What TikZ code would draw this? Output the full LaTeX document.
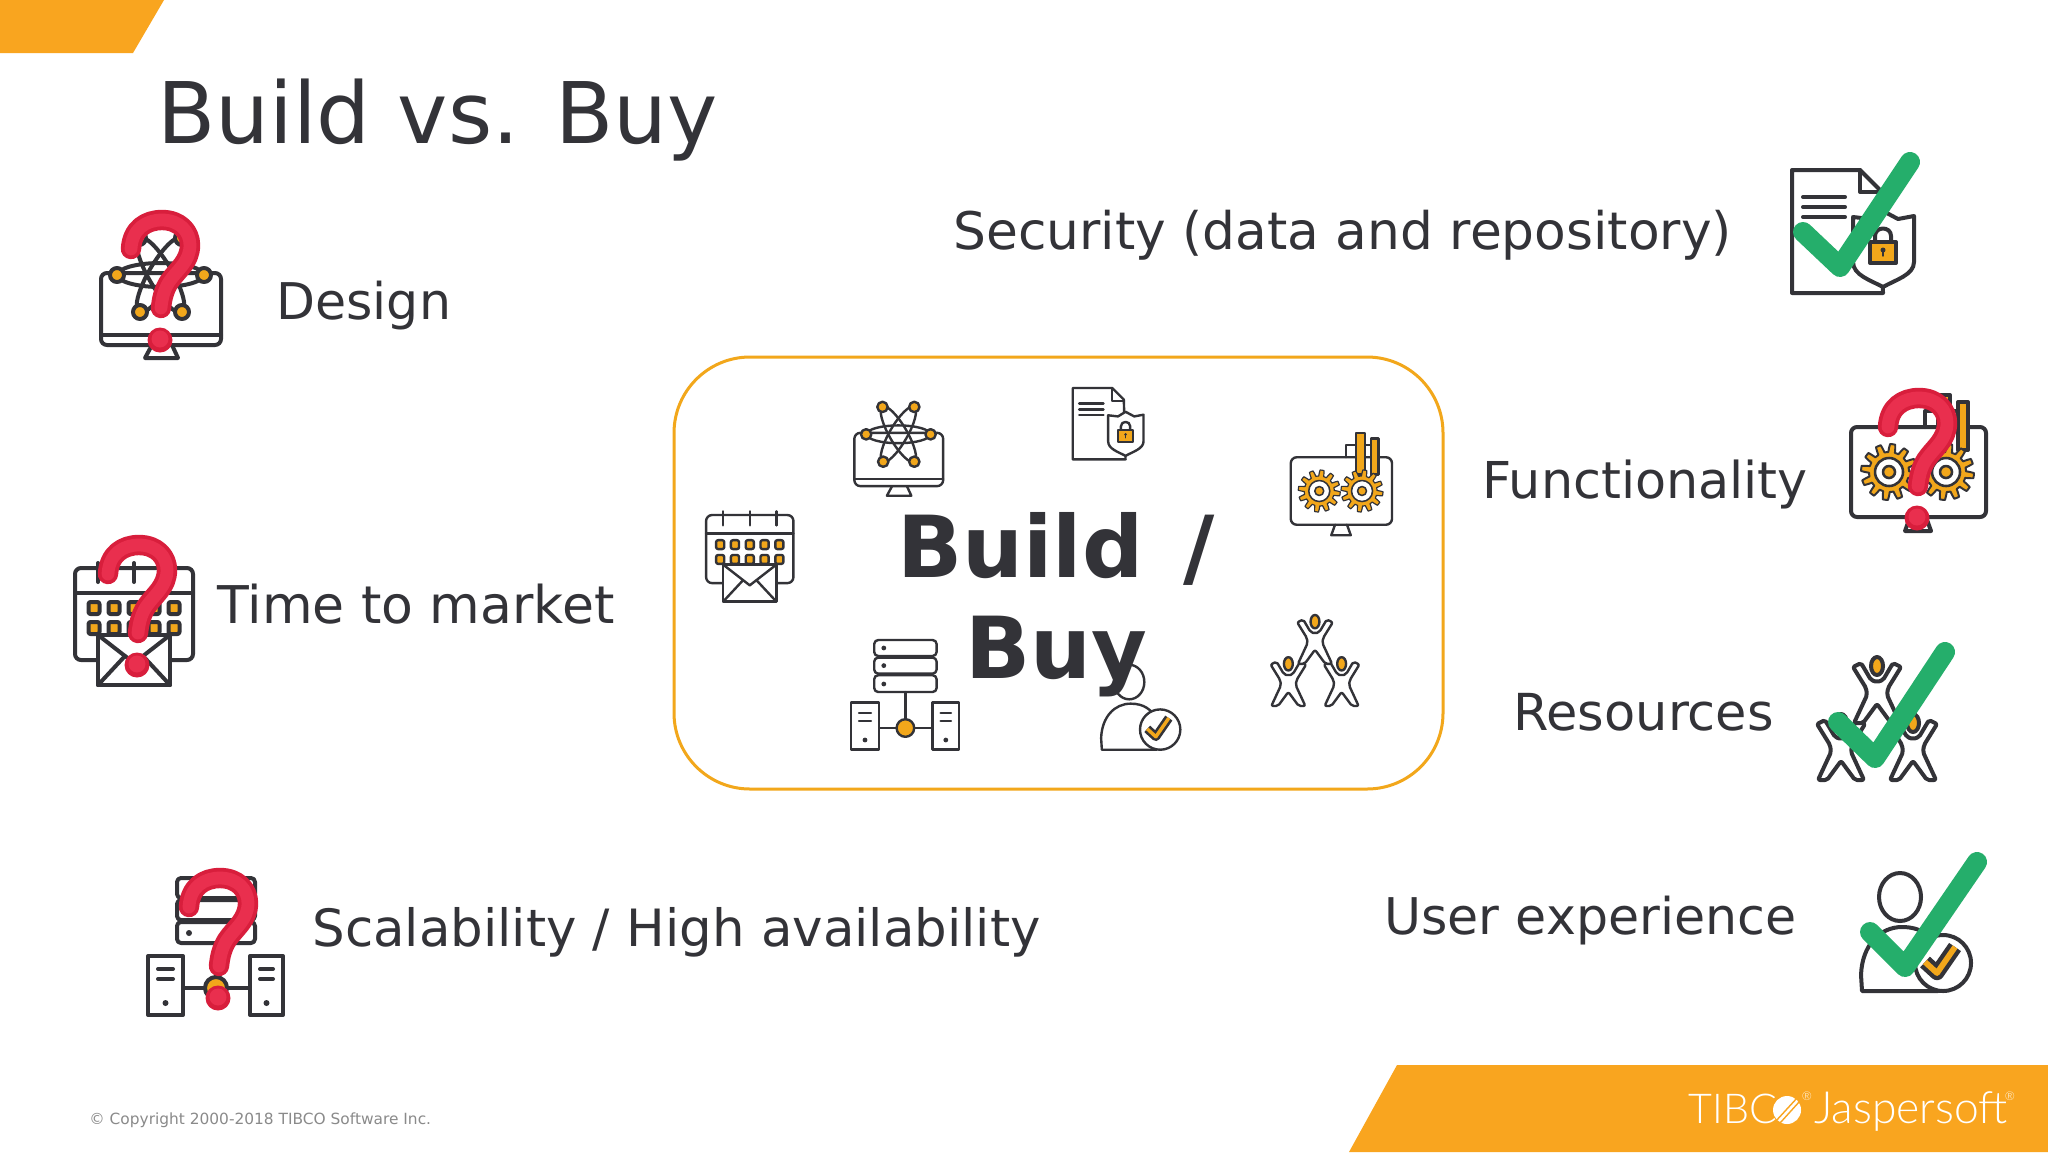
\documentclass[tikz,border=0pt]{standalone}
\usepackage{fontspec}
\setmainfont{DejaVu Sans}
\newfontfamily\logofont{Lato Light}
\definecolor{ink}{HTML}{333338}
\definecolor{ora}{HTML}{F9A51F}
\definecolor{icono}{HTML}{F2A71B}
\definecolor{qdark}{HTML}{D81E3C}
\definecolor{qlite}{HTML}{E92F4E}
\definecolor{okgreen}{HTML}{25AE6B}
\definecolor{greytxt}{HTML}{8A8A8A}
\tikzset{
  lbl/.style={anchor=base west,inner sep=0pt,text=ink,font=\fontsize{25.6}{32}\selectfont},
  ln/.style={draw=ink,line join=round,line cap=round},
  bigicon/.style={line width=2pt},
  smallicon/.style={line width=1.2pt,scale=#1},
  orafill/.style={ln,fill=icono},
  whitefill/.style={ln,fill=white},
  logotxt/.style={anchor=base west,inner sep=0pt,text=white,font=\logofont\fontsize{20.6}{24}\selectfont},
  logoreg/.style={inner sep=0pt,text=white,font=\logofont\fontsize{6}{7}\selectfont},
}
\newcommand{\qmarkat}[2]{%
  \begin{scope}[shift={(#1,#2)},line cap=round,line join=round]
    \foreach \c/\w in {qdark/10.2pt,qlite/6.4pt}{
      \draw[\c,line width=\w] (71,69) .. controls (72,49) and (86,40) .. (102,40)
        .. controls (120,40) and (130,52) .. (130,65)
        .. controls (130,82) and (117,90) .. (109,102)
        .. controls (104,110) and (102,118) .. (101,128);
    }
    \fill[qdark] (100,160) circle (12.5);
    \fill[qlite] (100,159) circle (8.5);
  \end{scope}}
\newcommand{\gcheck}[6]{%
  \draw[okgreen,line width=10pt,line cap=round,line join=round] (#1,#2) -- (#3,#4) -- (#5,#6);}
\newcommand{\iconatom}{%
  \draw[whitefill,rounded corners=3] (41,93) rectangle (161,165);
  \draw[ln] (41,155) -- (161,155);
  \draw[ln] (92,165) -- (85,178) -- (118,178) -- (112,165);
  \foreach \a in {0,60,-60}{
    \draw[ln,rotate around={\a:(100.5,95)}] (100.5,95) ellipse (43 and 12);
  }
  \foreach \p/\q in {79/58,122/58,57/95,144/95,80/132,122/132}{
    \draw[orafill] (\p,\q) circle (7);
  }}
\newcommand{\iconcal}{%
  \draw[whitefill,rounded corners=3] (15,48) rectangle (133,140);
  \draw[ln] (15,73) -- (133,73);
  \foreach \p in {38,74,110}{\draw[ln] (\p,43) -- (\p,62);}
  \foreach \p in {34,54,74,94,114}{
    \draw[orafill,rounded corners=1] (\p-5.5,82) rectangle (\p+5.5,94);
    \draw[orafill,rounded corners=1] (\p-5.5,102) rectangle (\p+5.5,114);
  }
  \draw[whitefill] (38,115) rectangle (110,165);
  \draw[ln] (38,115) -- (74,143) -- (110,115);
  \draw[ln] (38,165) -- (65,136);
  \draw[ln] (110,165) -- (83,136);}
\newcommand{\iconserver}{%
  \foreach \t/\b/\d in {28/48/38,50/70/60,72/93/83}{
    \draw[whitefill,rounded corners=2] (47,\t) rectangle (125,\b);
    \fill[ink] (59,\d) circle (3);
  }
  \draw[ln] (86,93) -- (86,126);
  \draw[ln] (53,138) -- (120,138);
  \foreach \l/\r in {18/53,120/153}{
    \draw[whitefill] (\l,106) rectangle (\r,165);
    \draw[ln] (\l+10,119) -- (\r-10,119);
    \draw[ln] (\l+10,129) -- (\r-10,129);
    \fill[ink] ({(\l+\r)/2},153) circle (3);
  }
  \draw[orafill] (86,138) circle (11);}
\newcommand{\icondoc}{%
  \draw[whitefill] (22,30) -- (90,30) -- (110,50) -- (113,153) -- (22,153) -- cycle;
  \draw[ln] (90,30) -- (90,52) -- (110,52);
  \foreach \q in {57,67,77}{\draw[ln] (33,\q) -- (75,\q);}
  \draw[whitefill] (83,77) -- (100,79) -- (113,71) -- (128,79) -- (144,76) -- (144,122)
    .. controls (144,135) and (125,140) .. (113,147)
    .. controls (100,140) and (83,135) .. (83,122) -- cycle;
  \draw[ln] (105,102) -- (105,96) .. controls (105,86) and (121,86) .. (121,96) -- (121,102);
  \draw[orafill] (100,102) rectangle (126,123);
  \fill[ink] (113,110) circle (2.5);
  \draw[ln,line width=.6\pgflinewidth] (113,110) -- (113,116);}
\newcommand{\geartooth}[2]{%
  \draw[orafill,line width=.7\pgflinewidth] plot[domain=0:360,samples=169,variable=\t]
    ({#1+(24+4*min(1,max(-1,4*sin(12*\t))))*cos(\t)},{#2+(24+4*min(1,max(-1,4*sin(12*\t))))*sin(\t)}) -- cycle;
  \draw[whitefill,line width=.8\pgflinewidth] (#1,#2) circle (14);
  \draw[orafill,line width=.8\pgflinewidth] (#1,#2) circle (6);}
\newcommand{\icongear}{%
  \draw[whitefill,rounded corners=3] (21,47) rectangle (156,137);
  \draw[ln] (80,137) -- (75,151) -- (101,151) -- (96,137);
  \draw[ln] (95,47) -- (95,31) -- (128,31);
  \draw[orafill] (108,15) rectangle (120,70);
  \draw[orafill] (128,22) rectangle (138,70);
  \geartooth{59}{92}
  \geartooth{116}{92}}
\newcommand{\personat}[2]{%
  \begin{scope}[shift={(#1,#2)}]
    \draw[whitefill,rounded corners=1] (-24,4) -- (-16,0) -- (-6,17) -- (0,19) -- (6,17) -- (16,0) -- (24,4)
      -- (11,25) -- (10,32) -- (23,60) -- (14,60) -- (0,41) -- (-14,60) -- (-23,60) -- (-10,32) -- (-11,25) -- cycle;
    \draw[orafill] (0,3) ellipse (6 and 9);
  \end{scope}}
\newcommand{\iconpeople}{%
  \personat{41}{90}
  \personat{113}{90}
  \personat{77}{33}}
\newcommand{\iconuser}{%
  \draw[ln] (60,57) ellipse (21 and 24);
  \draw[whitefill] (22,151) -- (21,135) .. controls (22,105) and (40,87) .. (62,87)
     .. controls (80,87) and (92,95) .. (98,110) -- (98,151) -- cycle;
  \draw[whitefill] (103,123) circle (28);
  \draw[ln,line width=1.9\pgflinewidth,line cap=butt] (85,122) -- (97,133) -- (115,107);
  \draw[icono,line width=1.2\pgflinewidth,line cap=butt,line join=round] (85,122) -- (97,133) -- (115,107);}
\begin{document}
\begin{tikzpicture}[x=0.5pt,y=-0.5pt]
\useasboundingbox (0,0) rectangle (2048,1152);
\fill[white] (0,0) rectangle (2048,1152);
% banners
\fill[ora] (0,0) -- (164,0) -- (133,53) -- (0,53) -- cycle;
\fill[ora] (1397,1065) -- (2048,1065) -- (2048,1152) -- (1349,1152) -- cycle;
% title
\node[anchor=base west,inner sep=0pt,text=ink,font=\fontsize{42.5}{50}\selectfont] (title) at (157,143) {Build vs. Buy};
% centre box
\draw[icono,line width=1.5pt,rounded corners=38pt] (674,357) rectangle (1443,789);
\begin{scope}[shift={(824,364)},smallicon=.74]\iconatom\end{scope}
\begin{scope}[shift={(1060,370.6)},smallicon=.58]\icondoc\end{scope}
\begin{scope}[shift={(1275,422)},smallicon=.75]\icongear\end{scope}
\begin{scope}[shift={(695,479.5)},smallicon=.74]\iconcal\end{scope}
\begin{scope}[shift={(836.6,617.6)},smallicon=.8]\iconserver\end{scope}
\begin{scope}[shift={(1086,641)},smallicon=.72]\iconuser\end{scope}
\begin{scope}[shift={(1258,595)},smallicon=.74]\iconpeople\end{scope}
\node[inner sep=0pt,align=center,text=ink,font=\bfseries\fontsize{42.8}{50.5}\selectfont] (core) at (1056,605) {Build\hspace{5pt} /\\Buy};
% left labels and icons
\begin{scope}[shift={(60,180)},bigicon]\iconatom\end{scope}
\qmarkat{60}{180}
\node[lbl,font=\fontsize{25.3}{32}\selectfont] (design) at (276,319.5) {Design};
\begin{scope}[shift={(60,520)},bigicon]\iconcal\end{scope}
\qmarkat{37}{505}
\node[lbl,font=\fontsize{26}{32}\selectfont] (time) at (217,623) {Time to market};
\begin{scope}[shift={(130,850)},bigicon]\iconserver\end{scope}
\qmarkat{118}{838}
\node[lbl,font=\fontsize{25.7}{32}\selectfont] (scal) at (312,946.5) {Scalability / High availability};
% right labels and icons
\node[lbl,font=\fontsize{25.9}{32}\selectfont] (sec) at (953,249.5) {Security (data and repository)};
\begin{scope}[shift={(1770,140)},bigicon]\icondoc\end{scope}
\gcheck{1803}{232}{1840}{267}{1910}{162}
\node[lbl,font=\fontsize{25.4}{32}\selectfont] (func) at (1482,498) {Functionality};
\begin{scope}[shift={(1830,380)},bigicon]\icongear\end{scope}
\qmarkat{1817}{358}
\node[lbl,font=\fontsize{25.5}{32}\selectfont] (res) at (1513,730) {Resources};
\begin{scope}[shift={(1800,630)},bigicon]\iconpeople\end{scope}
\gcheck{1838}{722}{1875}{758}{1945}{652}
\node[lbl,font=\fontsize{25.3}{32}\selectfont] (ux) at (1384,934) {User experience};
\begin{scope}[shift={(1840,840)},bigicon]\iconuser\end{scope}
\gcheck{1870}{932}{1905}{967}{1977}{862}
% footer
\node[anchor=base west,inner sep=0pt,text=greytxt,font=\fontsize{7.7}{9}\selectfont] (copy) at (89,1124) {© Copyright 2000-2018 TIBCO Software Inc.};
% logo
\node[logotxt] (tibc) at (1688,1123) {TIBC};
\fill[white] (1787,1110) circle (14);
\draw[ora,line width=.7pt] (1775,1122) -- (1797,1098);
\draw[ora,line width=.7pt] (1780,1123) -- (1799,1102);
\node[logoreg] (rega) at (1807,1096) {®};
\node[logotxt,font=\logofont\fontsize{22.2}{26}\selectfont] (jasper) at (1814,1123) {Jaspersoft};
\node[logoreg] (regb) at (2010,1096) {®};
\end{tikzpicture}
\end{document}
